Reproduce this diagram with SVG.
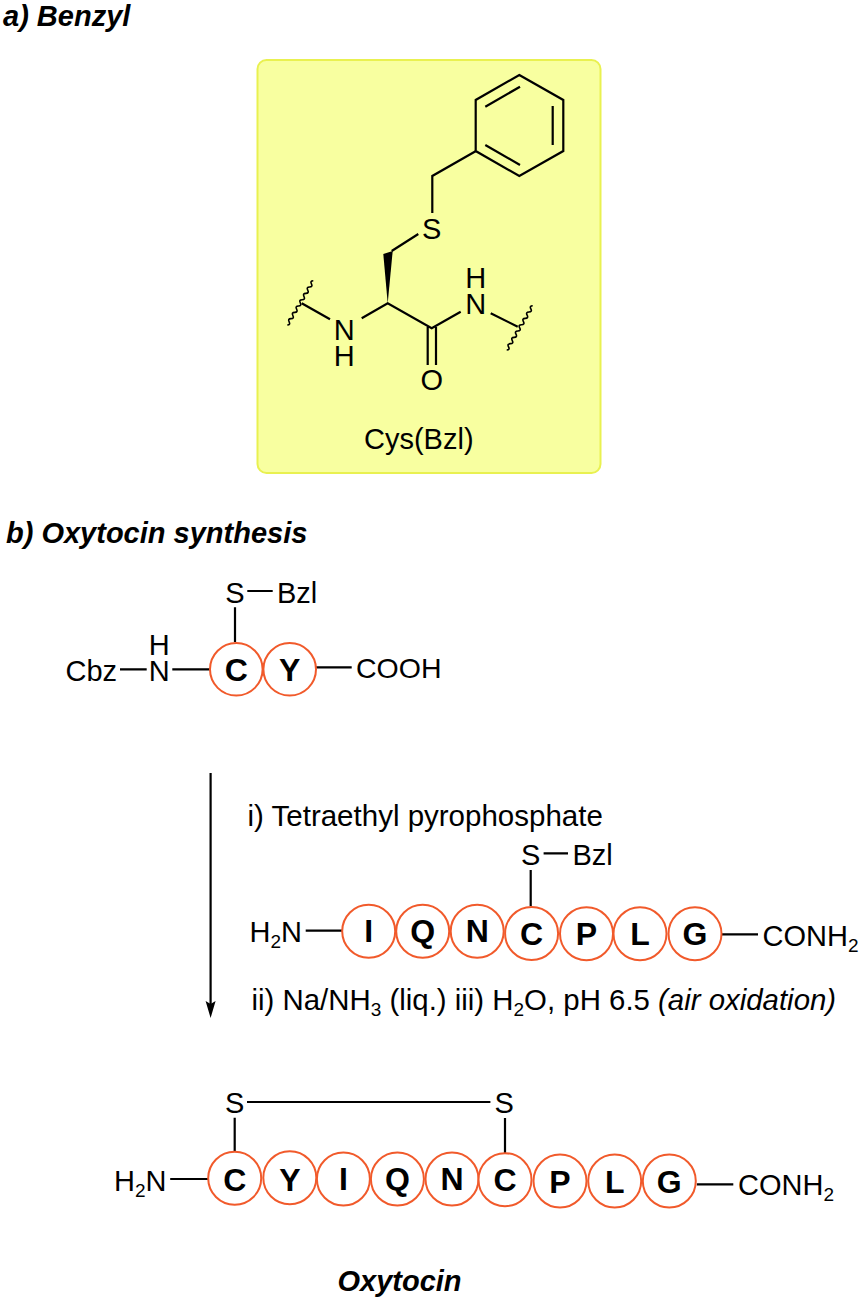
<svg xmlns="http://www.w3.org/2000/svg" width="859" height="1301" viewBox="0 0 859 1301">
<style>
text{font-family:"Liberation Sans",Arial,sans-serif;fill:#000}
.t{font-size:29px}
.m{font-size:29px;text-anchor:middle}
.sub{font-size:19px}
.h{font-size:29px;font-weight:bold;font-style:italic}
.r{font-size:32px;font-weight:bold;text-anchor:middle}
.c{fill:#fff;stroke:#f15a2b;stroke-width:2}
.b{fill:none;stroke:#000;stroke-width:2.200;stroke-linecap:butt}
.w{fill:none;stroke:#000;stroke-width:1.600}
</style>
<defs>
<marker id="ah" markerUnits="userSpaceOnUse" markerWidth="17" markerHeight="10" refX="9" refY="5" viewBox="0 0 17 10" orient="auto" overflow="visible"><path d="M0 0L17 5L0 10L3 5Z" fill="#000"/></marker>
</defs>
<rect width="859" height="1301" fill="#fff"/>
<text class="h" x="3" y="25.500">a) Benzyl</text>
<rect id="box" x="257.500" y="60" width="343" height="413" rx="9" fill="#f8ffa0" stroke="#e9f150" stroke-width="2"/>
<g id="cys-structure">
<path class="b" d="M519.300 75L563.300 100V151L519.300 176L475.700 151V100Z"/>
<path class="b" d="M485.300 106.700L520 86.700M552.700 106V145M485.300 145L520 165"/>
<path class="b" d="M476 151L432.300 176V213M418.300 234L391.700 251"/>
<path class="b" d="M361.700 318.300L387.700 303.300L431.700 328.300L460.700 311.700M427.700 327V365M436 327V365"/>
<path class="b" d="M330 319.300L301.700 303.300M490.700 313.300L517.700 326.700"/>
<path d="M387.700 303.300L383.300 254L392.700 251Z" fill="#000"/>
<path class="w" d="M287.300 325q3.500 -.1 1.857 -3.164t1.857 -3.164t1.857 -3.164t1.857 -3.164t1.857 -3.164t1.857 -3.164t1.857 -3.164t1.857 -3.164t1.857 -3.164t1.857 -3.164t1.857 -3.164t1.857 -3.164t1.857 -3.164t1.857 -3.164"/>
<path class="w" d="M506.700 350q3.500 -.1 1.857 -3.164t1.857 -3.164t1.857 -3.164t1.857 -3.164t1.857 -3.164t1.857 -3.164t1.857 -3.164t1.857 -3.164t1.857 -3.164t1.857 -3.164t1.857 -3.164t1.857 -3.164t1.857 -3.164t1.857 -3.164"/>
<text class="m" x="431.700" y="238.500">S</text>
<text class="m" x="344.300" y="339.500">N<tspan x="344.300" dy="26.500">H</tspan></text>
<text class="m" x="475.700" y="287.500">H<tspan x="475.700" dy="26.500">N</tspan></text>
<text class="m" x="431.700" y="390">O</text>
<text class="t" x="364" y="449">Cys(Bzl)</text>
</g>
<text class="h" x="6" y="543">b) Oxytocin synthesis</text>

<g id="connectors">
<path class="b" d="M247.300 591H272.700M235 607.300V642M120 669.300H146.700M172.300 669.300H210M315.700 667.300H351.700"/>
<path class="b" d="M543.600 853.300H568M530.700 870V906M305.700 930.700H343M721.500 934.300H758"/>
<path class="b" d="M247 1102H490.400M234.700 1117.700V1152.700M505 1118V1153M170.200 1179H208.200M696.800 1184.300H733.300"/>
<path id="arrow" class="b" d="M210.600 773V1010" marker-end="url(#ah)"/>
</g>

<g id="sm1">
<text class="m" x="235" y="603">S</text>
<text class="t" x="277" y="603">Bzl</text>
<text class="m" x="159.300" y="654.500">H<tspan x="159.300" dy="26.200">N</tspan></text>
<text class="t" x="65.500" y="680.700">Cbz</text>
<text class="t" x="356" y="678.300" style="font-size:28.500px">COOH</text>
</g>
<g id="r1-C"><circle class="c" cx="236.300" cy="669.300" r="26.300"/><text class="r" x="236.300" y="681">C</text></g>
<g id="r1-Y"><circle class="c" cx="289.700" cy="669.300" r="26.300"/><text class="r" x="289.700" y="681">Y</text></g>

<text class="t" x="247.500" y="826" style="font-size:29.500px">i) Tetraethyl pyrophosphate</text>
<g id="sm2">
<text class="m" x="530.700" y="865">S</text>
<text class="t" x="572.500" y="865">Bzl</text>
<text class="t" x="249.500" y="941.700">H<tspan class="sub" dy="6">2</tspan><tspan dy="-6">N</tspan></text>
<text class="t" x="762.500" y="945.700">CONH<tspan class="sub" dy="6">2</tspan></text>
</g>
<g id="r2-I"><circle class="c" cx="368.700" cy="931.300" r="26.500"/><text class="r" x="368.700" y="941.700">I</text></g>
<g id="r2-Q"><circle class="c" cx="422.700" cy="931.300" r="26.500"/><text class="r" x="422.700" y="941.700">Q</text></g>
<g id="r2-N"><circle class="c" cx="477.200" cy="931.300" r="26.500"/><text class="r" x="477.200" y="941.700">N</text></g>
<g id="r2-C"><circle class="c" cx="531.600" cy="933.500" r="26.500"/><text class="r" x="531.600" y="945">C</text></g>
<g id="r2-P"><circle class="c" cx="586.500" cy="933.700" r="26.500"/><text class="r" x="586.500" y="945">P</text></g>
<g id="r2-L"><circle class="c" cx="640" cy="933.700" r="26.500"/><text class="r" x="640" y="945">L</text></g>
<g id="r2-G"><circle class="c" cx="695" cy="933.700" r="26.500"/><text class="r" x="695" y="945">G</text></g>
<text class="t" x="251.500" y="1010" style="font-size:29.400px">ii) Na/NH<tspan class="sub" dy="6">3</tspan><tspan dy="-6"> (liq.) iii) H</tspan><tspan class="sub" dy="6">2</tspan><tspan dy="-6">O, pH 6.5 </tspan><tspan font-style="italic">(air oxidation)</tspan></text>

<g id="sm3">
<text class="m" x="234.700" y="1112.700">S</text>
<text class="m" x="504.200" y="1112.700">S</text>
<text class="t" x="114" y="1190.700">H<tspan class="sub" dy="6">2</tspan><tspan dy="-6">N</tspan></text>
<text class="t" x="738" y="1195">CONH<tspan class="sub" dy="6">2</tspan></text>
</g>
<g id="r3-C1"><circle class="c" cx="234.700" cy="1178.300" r="26.500"/><text class="r" x="234.700" y="1190.700">C</text></g>
<g id="r3-Y"><circle class="c" cx="289.800" cy="1177.700" r="26.500"/><text class="r" x="289.800" y="1190.700">Y</text></g>
<g id="r3-I"><circle class="c" cx="343.400" cy="1179" r="26.500"/><text class="r" x="343.400" y="1190">I</text></g>
<g id="r3-Q"><circle class="c" cx="397.400" cy="1179" r="26.500"/><text class="r" x="397.400" y="1190">Q</text></g>
<g id="r3-N"><circle class="c" cx="452" cy="1179" r="26.500"/><text class="r" x="452" y="1190">N</text></g>
<g id="r3-C2"><circle class="c" cx="505" cy="1179.700" r="26.500"/><text class="r" x="505" y="1190.700">C</text></g>
<g id="r3-P"><circle class="c" cx="560" cy="1181" r="26.500"/><text class="r" x="560" y="1192.700">P</text></g>
<g id="r3-L"><circle class="c" cx="614.700" cy="1181" r="26.500"/><text class="r" x="614.700" y="1192.700">L</text></g>
<g id="r3-G"><circle class="c" cx="669.300" cy="1181" r="26.500"/><text class="r" x="669.300" y="1192.700">G</text></g>
<text class="h" x="337.500" y="1291">Oxytocin</text>
</svg>
